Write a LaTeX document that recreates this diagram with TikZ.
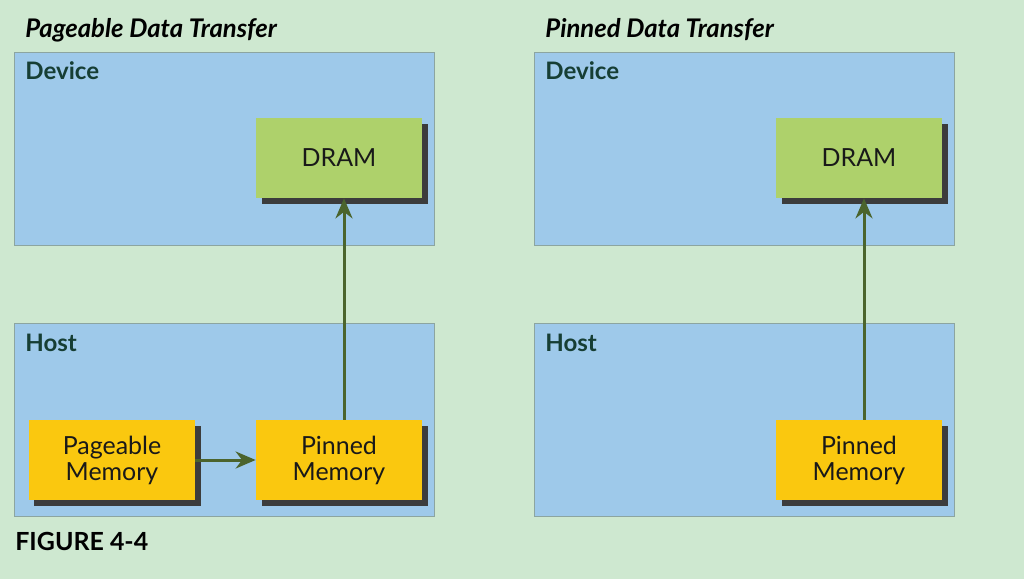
\documentclass[tikz,border=0pt]{standalone}
\usepackage{fontspec}
\setmainfont{Lato}
\usetikzlibrary{shadows,arrows.meta}

\definecolor{bggreen}{RGB}{206,232,208}
\definecolor{areablue}{RGB}{158,201,234}
\definecolor{arealine}{RGB}{140,165,160}
\definecolor{dramgreen}{RGB}{174,209,107}
\definecolor{memyellow}{RGB}{250,200,15}
\definecolor{shadowgray}{RGB}{60,60,60}
\definecolor{labelteal}{RGB}{22,62,52}
\definecolor{flowgreen}{RGB}{75,100,45}

\tikzset{
  area/.style={draw=arealine, line width=0.2mm, fill=areablue,
    minimum width=83.8mm, minimum height=38.6mm, inner sep=0pt},
  areatitle/.style={anchor=base west, inner sep=0pt, text=labelteal,
    font=\fontsize{13.7}{15}\selectfont\bfseries},
  memblock/.style={minimum width=33.2mm, minimum height=16mm, inner sep=0pt,
    align=center, text=black!90, font=\fontsize{14.2}{14.8}\selectfont,
    drop shadow={shadow xshift=1.1mm, shadow yshift=-1.1mm,
      fill=shadowgray, opacity=1}},
  flow/.style={draw=flowgreen, line width=0.6mm, -{Stealth[length=4mm, width=3.4mm]}},
  heading/.style={anchor=base west, inner sep=0pt,
    font=\fontsize{14.6}{16}\selectfont\bfseries\itshape}
}

\begin{document}
\begin{tikzpicture}[x=0.2mm, y=-0.2mm]
    \fill[bggreen] (0,0) rectangle (1024,579);
    \useasboundingbox (0,0) rectangle (1024,579);

    % pageable side
    \node[heading] (headL) at (25,37) {Pageable Data Transfer};
    \node[area] (devL) at (224.5,148.5) {};
    \node[areatitle] (devLtxt) at (25,79) {Device};
    \node[area] (hostL) at (224.5,420) {};
    \node[areatitle] (hostLtxt) at (25,351) {Host};
    \node[memblock, fill=dramgreen] (dramL) at (339,158) {DRAM};
    \node[memblock, fill=memyellow] (pageL) at (112,460) {Pageable\\Memory};
    \node[memblock, fill=memyellow] (pinL) at (339,460) {Pinned\\Memory};
    \draw[flow] (pageL) -- (pinL);
    \draw[flow] ([xshift=1mm]pinL.north) -- ([xshift=1mm]dramL.south);

    % pinned side
    \node[heading] (headR) at (545,37) {Pinned Data Transfer};
    \node[area] (devR) at (744.5,148.5) {};
    \node[areatitle] (devRtxt) at (545,79) {Device};
    \node[area] (hostR) at (744.5,420) {};
    \node[areatitle] (hostRtxt) at (545,351) {Host};
    \node[memblock, fill=dramgreen] (dramR) at (859,158) {DRAM};
    \node[memblock, fill=memyellow] (pinR) at (859,460) {Pinned\\Memory};
    \draw[flow] ([xshift=1mm]pinR.north) -- ([xshift=1mm]dramR.south);

    \node[anchor=base west, inner sep=0pt, font=\fontsize{14.2}{16}\selectfont\bfseries]
      (fig) at (15,550) {FIGURE 4-4};
\end{tikzpicture}
\end{document}
